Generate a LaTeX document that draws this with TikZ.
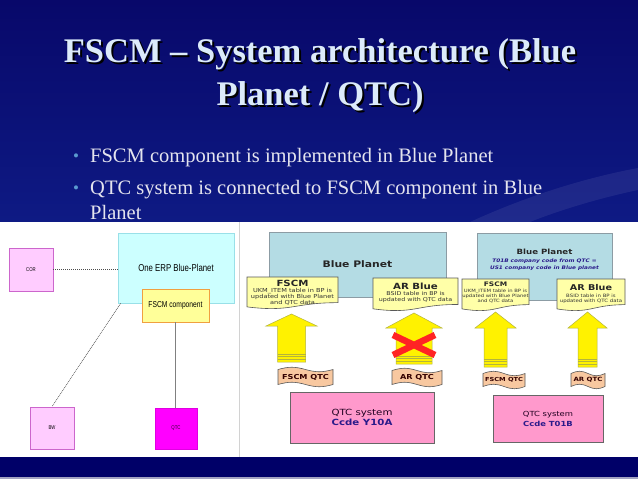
\documentclass[tikz,border=0pt]{standalone}
\usepackage{fontspec}
\setmainfont{Liberation Serif}
\newfontfamily\dgfont[FakeStretch=1.2]{DejaVu Sans}
\newfontfamily\narrowfont[FakeStretch=0.78]{Liberation Sans}

\definecolor{slidetop}{HTML}{08086A}
\definecolor{slidebot}{HTML}{0E1A84}
\definecolor{bandblue}{HTML}{000068}
\definecolor{titlefg}{HTML}{DCEBFA}
\definecolor{bodyfg}{HTML}{E4E4EE}
\definecolor{bulletc}{HTML}{5A9AD0}
\definecolor{corpink}{HTML}{FFCCFF}
\definecolor{corline}{HTML}{CC66CC}
\definecolor{qtcmag}{HTML}{FF00FF}
\definecolor{qtcmagline}{HTML}{E000E0}
\definecolor{erpfill}{HTML}{CCFFFF}
\definecolor{erpline}{HTML}{99E0E8}
\definecolor{compfill}{HTML}{FFFF99}
\definecolor{compline}{HTML}{F0A040}
\definecolor{bpfill}{HTML}{B4DCE4}
\definecolor{bpline}{HTML}{8C9CA4}
\definecolor{docfill}{HTML}{FFFFA8}
\definecolor{peach}{HTML}{F8C8A0}
\definecolor{qtcpink}{HTML}{FF99CC}
\definecolor{inkblue}{HTML}{2A1A8A}
\definecolor{arrowline}{HTML}{B4B43C}
\definecolor{redx}{HTML}{FF2424}

\tikzset{
  lbox/.style={draw=corline, fill=corpink, line width=0.8pt, minimum width=44pt, minimum height=43pt,
    font=\narrowfont\fontsize{5.5}{6}\selectfont},
  bpbox/.style={draw=bpline, fill=bpfill, line width=0.7pt, font=\dgfont\bfseries, text=black!85},
  qtcbox/.style={draw=gray!80!black, fill=qtcpink, line width=0.7pt, align=center, text=black!75!violet},
  doctitle/.style={font=\dgfont\bfseries, text=black!85, inner sep=0pt},
  docbody/.style={align=center, text=black!80, inner sep=0pt},
  tapetext/.style={font=\dgfont\bfseries\fontsize{6.8}{7}\selectfont, text=black!80!red, inner sep=0pt},
  titletext/.style={anchor=base, font=\bfseries\fontsize{34.5}{43}\selectfont},
  docstyle/.style={fill=docfill, draw=gray!70!black, line width=0.6pt},
  tapestyle/.style={fill=peach, draw=gray!70!black, line width=0.6pt},
  arrowstyle/.style={fill=yellow, draw=arrowline, line width=0.5pt}
}

% document shape: x0, y0, x1, height
\newcommand{\docbox}[4]{%
  \filldraw[docstyle] (#1,#2) -- (#3,#2) -- (#3,{#2+0.802*#4})
    .. controls ({(#1+#3)/2},{#2+0.802*#4}) and ({(#1+#3)/2},{#2+1.107*#4}) .. (#1,{#2+0.934*#4}) -- cycle;}
% punched tape shape: x0, y0, x1, y1
\newcommand{\tapebox}[4]{%
  \filldraw[tapestyle] (#1,{#2+1.5})
    .. controls ({#1+0.2*(#3-#1)},{#2-1.5}) and ({#1+0.3*(#3-#1)},{#2-1.5}) .. ({(#1+#3)/2},{#2+1.5})
    .. controls ({#1+0.7*(#3-#1)},{#2+4.5}) and ({#1+0.8*(#3-#1)},{#2+4.5}) .. (#3,{#2+1.5})
    -- (#3,{#4-1.5})
    .. controls ({#1+0.8*(#3-#1)},{#4+1.5}) and ({#1+0.7*(#3-#1)},{#4+1.5}) .. ({(#1+#3)/2},{#4-1.5})
    .. controls ({#1+0.3*(#3-#1)},{#4-4.5}) and ({#1+0.2*(#3-#1)},{#4-4.5}) .. (#1,{#4-1.5}) -- cycle;}
% striped fat arrow: centre x, tip, head base, bottom, head half width, shaft half width
\newcommand{\fatarrow}[6]{%
  \filldraw[arrowstyle] (#1,#2) -- ({#1+#5},#3) -- ({#1+#6},#3) -- ({#1+#6},#4)
    -- ({#1-#6},#4) -- ({#1-#6},#3) -- ({#1-#5},#3) -- cycle;
  \foreach \s in {3,5.5,8}
    \draw[arrowline] ({#1-#6},{#4-\s}) -- ({#1+#6},{#4-\s});}

\begin{document}
\begin{tikzpicture}[x=1pt, y=-1pt]
  \useasboundingbox (0,0) rectangle (638,479);
  % slide
  \fill[top color=slidetop, bottom color=slidebot] (0,0) rectangle (638,222);
  \fill[white, opacity=0.07] (470,222) .. controls (540,190) and (600,175) .. (638,168)
    -- (638,190) .. controls (600,198) and (560,210) .. (530,222) -- cycle;
  \fill[white] (0,222) rectangle (638,457);
  \fill[bandblue] (0,457) rectangle (638,477);
  \fill[blue!20!gray!60] (0,477) rectangle (638,479);
  \draw[gray!35] (239,222) -- (239,457);

  % title
  \node[titletext, text=black] (tshadow1) at (322,64) {FSCM -- System architecture (Blue};
  \node[titletext, text=black] (tshadow2) at (322,107) {Planet / QTC)};
  \node[titletext, text=titlefg] (title1) at (320,62) {FSCM -- System architecture (Blue};
  \node[titletext, text=titlefg] (title2) at (320,105) {Planet / QTC)};

  % bullets
  \node[anchor=base, text=bulletc, font=\fontsize{17}{17}\selectfont] (dot1) at (76,161) {•};
  \node[anchor=base, text=bulletc, font=\fontsize{17}{17}\selectfont] (dot2) at (76,193) {•};
  \node[anchor=base west, inner sep=0pt, text=bodyfg, font=\fontsize{20.5}{25}\selectfont] (item1) at (90,162)
    {FSCM component is implemented in Blue Planet};
  \node[anchor=base west, inner sep=0pt, text=bodyfg, font=\fontsize{20.5}{25}\selectfont] (item2) at (90,194)
    {QTC system is connected to FSCM component in Blue};
  \node[anchor=base west, inner sep=0pt, text=bodyfg, font=\fontsize{20.5}{25}\selectfont] (item2b) at (90,219)
    {Planet};

  % left: landscape
  \node[lbox] (cor) at (31,269.5) {COR};
  \node[draw=erpline, fill=erpfill, line width=0.8pt, minimum width=116pt, minimum height=70pt,
    font=\narrowfont\fontsize{10}{12}\selectfont] (erp) at (176,268) {One ERP Blue-Planet};
  \node[draw=compline, fill=compfill, line width=0.8pt, minimum width=67pt, minimum height=33pt,
    font=\narrowfont\fontsize{8.6}{10}\selectfont] (comp) at (175.5,305.5) {FSCM component};
  \node[lbox, minimum height=42pt] (bw) at (52,428) {BW};
  \node[lbox, fill=qtcmag, draw=qtcmagline, text=violet!40!black, minimum width=42pt, minimum height=41pt] (qtc) at (176,428.5) {QTC};
  \draw[black!70, line width=1pt, densely dotted] (cor.east) -- (cor.east -| erp.west);
  \draw[black!60, line width=0.8pt, densely dotted] ([xshift=3pt]erp.south west) -- (bw.north);
  \draw[gray, line width=1.2pt] (comp.south) -- (comp.south |- qtc.north);

  % middle: code Y10A
  \node[bpbox, minimum width=177pt, minimum height=65pt, font=\dgfont\bfseries\fontsize{9}{10}\selectfont] (bp1) at (357.5,264.5) {Blue Planet};
  \docbox{247}{277}{338}{32}
  \node[doctitle, font=\dgfont\bfseries\fontsize{8.5}{9}\selectfont] (fscm1) at (292.5,283) {FSCM};
  \node[docbody, font=\dgfont\fontsize{5.5}{6}\selectfont] (fscm1b) at (292.5,296.5)
    {UKM\_ITEM table in BP is\\updated with Blue Planet\\and QTC data};
  \docbox{373}{278}{458}{33}
  \node[doctitle, font=\dgfont\bfseries\fontsize{8.5}{9}\selectfont] (arblue1) at (415.5,286) {AR Blue};
  \node[docbody, font=\dgfont\fontsize{5.3}{6.3}\selectfont] (arblue1b) at (415.5,297)
    {BSID table in BP is\\updated with QTC data};
  \fatarrow{291.5}{314}{326}{362}{25.5}{14}
  \fatarrow{414}{313}{328}{364}{28}{18}
  \draw[redx, line width=6.5pt] (393,335) -- (435,355) (393,355) -- (435,335);
  \tapebox{278}{368}{333}{386}
  \node[tapetext] (fscmqtc1) at (305.5,377) {FSCM QTC};
  \tapebox{392}{369}{442}{386}
  \node[tapetext] (arqtc1) at (417,377.5) {AR QTC};
  \node[qtcbox, minimum width=144pt, minimum height=51pt, font=\dgfont\fontsize{8.5}{10}\selectfont] (qtcsys1) at (362,417.5)
    {QTC system\\{\bfseries\color{inkblue}Ccde Y10A}};

  % right: code T01B
  \node[bpbox, minimum width=135pt, minimum height=67pt] (bp2) at (544.5,266.5) {};
  \node[doctitle, font=\dgfont\bfseries\fontsize{7.2}{8}\selectfont] (bp2t) at (544.5,252) {Blue Planet};
  \node[docbody, text=inkblue, font=\dgfont\bfseries\itshape\fontsize{4.8}{7}\selectfont] (bp2n) at (544.5,264.5)
    {T01B company code from QTC =\\US1 company code in Blue planet};
  \docbox{462}{279}{529}{32}
  \node[doctitle, font=\dgfont\bfseries\fontsize{6.2}{7}\selectfont] (fscm2) at (495.5,284.5) {FSCM};
  \node[docbody, font=\dgfont\fontsize{4.4}{4.6}\selectfont] (fscm2b) at (495.5,296.2)
    {UKM\_ITEM table in BP is\\updated with Blue Planet\\and QTC data};
  \docbox{557}{279}{625}{32}
  \node[doctitle, font=\dgfont\bfseries\fontsize{8}{9}\selectfont] (arblue2) at (591,288) {AR Blue};
  \node[docbody, font=\dgfont\fontsize{4.5}{5}\selectfont] (arblue2b) at (591,298.5)
    {BSID table in BP is\\updated with QTC data};
  \fatarrow{495.5}{312}{328}{367}{20.5}{11.5}
  \fatarrow{587.5}{312}{328}{367}{19.5}{9.5}
  \tapebox{483}{372}{525}{388}
  \node[tapetext, font=\dgfont\bfseries\fontsize{5.5}{6}\selectfont] (fscmqtc2) at (504,380) {FSCM QTC};
  \tapebox{571}{372}{605}{388}
  \node[tapetext, font=\dgfont\bfseries\fontsize{5.8}{6}\selectfont] (arqtc2) at (588,380) {AR QTC};
  \node[qtcbox, minimum width=110pt, minimum height=47pt, font=\dgfont\fontsize{7}{10}\selectfont] (qtcsys2) at (548,418.5)
    {QTC system\\{\bfseries\color{inkblue}Ccde T01B}};
\end{tikzpicture}
\end{document}
